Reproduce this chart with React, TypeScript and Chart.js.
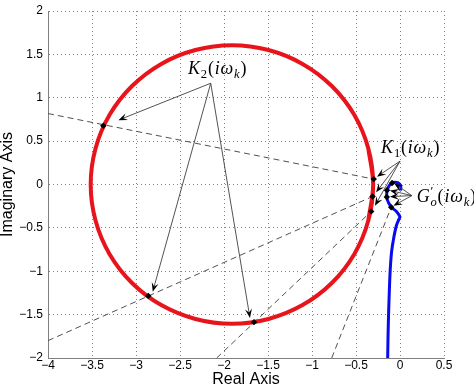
import React, { useEffect, useRef } from 'react';
import { Chart, registerables } from 'chart.js';

Chart.register(...registerables);

// Red circle (disk boundary)
const circleRe = [-0.360, -0.305, -0.360, -0.520, -0.775, -1.108, -1.495, -1.910, -2.325, -2.713, -3.045, -3.300, -3.460, -3.515, -3.460, -3.300, -3.045, -2.713, -2.325, -1.910, -1.495, -1.108, -0.775, -0.520, -0.360, -0.305, -0.360];
const circleIm = [-0.415, 0.000, 0.415, 0.803, 1.135, 1.390, 1.550, 1.605, 1.550, 1.390, 1.135, 0.803, 0.415, 0.000, -0.415, -0.803, -1.135, -1.390, -1.550, -1.605, -1.550, -1.390, -1.135, -0.803, -0.415, 0.000, 0.415];

// Blue Nyquist curve G'_o(iω)
const nyqRe = [-0.140, -0.136, -0.130, -0.122, -0.112, -0.096, -0.072, -0.040, -0.012, 0.000, -0.040, -0.090, -0.130, -0.150, -0.148, -0.130, -0.100, -0.065, -0.025, 0.000, 0.010, 0.005];
const nyqIm = [-2.000, -1.750, -1.500, -1.250, -1.000, -0.780, -0.620, -0.470, -0.400, -0.375, -0.310, -0.270, -0.210, -0.150, -0.080, -0.025, 0.010, 0.025, 0.020, 0.000, -0.035, -0.070];

// Marked points
const k2Re = [-3.371, -2.860, -1.659];
const k2Im = [0.678, -1.284, -1.587];
const k1Re = [-0.298, -0.312, -0.327];
const k1Im = [0.062, -0.138, -0.310];
const gRe = [-0.090, -0.148, -0.150, -0.100];
const gIm = [0.018, -0.067, -0.144, -0.262];

// Dashed rays (start at plot edge, end at marked point)
const rayFromRe = [-4.0, -4.0, -2.083, -0.776];
const rayFromIm = [0.818, -1.800, -2.000, -2.000];
const rayToRe = [-0.298, -0.312, -0.327, -0.100];
const rayToIm = [0.062, -0.138, -0.310, -0.262];

// Annotation arrows
const k2ArrowFrom = [-2.151, 1.167];
const k2TipRe = [-3.200, -2.810, -1.705];
const k2TipIm = [0.742, -1.235, -1.538];
const k1ArrowFrom = [0.0, 0.269];
const k1TipRe = [-0.262, -0.272, -0.285];
const k1TipIm = [0.090, -0.090, -0.245];
const gArrowFrom = [0.135, -0.128];
const gTipRe = [-0.065, -0.115, -0.115, -0.075];
const gTipIm = [0.012, -0.068, -0.140, -0.245];

// Ticks
const xTicks = [-4, -3.5, -3, -2.5, -2, -1.5, -1, -0.5, 0, 0.5];
const yTicks = [-2, -1.5, -1, -0.5, 0, 0.5, 1, 1.5, 2];

// Label anchors (data coords, baseline-left)
const k2LabelAt = [-2.409, 1.273];
const k1LabelAt = [-0.215, 0.364];
const gLabelAt = [0.190, -0.205];

const pts = (re: number[], im: number[]) => re.map((v, i) => ({ x: v, y: im[i] }));
const fmt = (v: number) => String(Math.round(v * 10) / 10).replace('-', '\u2212');

type Part = { t: string; it?: boolean; sub?: boolean; sup?: boolean; noAdv?: boolean };

const mathK = (n: string): Part[] => [
  { t: 'K', it: true }, { t: n, sub: true }, { t: '(' }, { t: 'i', it: true }, { t: 'ω', it: true }, { t: 'k', it: true, sub: true }, { t: ')' },
];
const mathG: Part[] = [
  { t: 'G', it: true }, { t: '′', sup: true, noAdv: true }, { t: 'o', it: true, sub: true }, { t: '(' }, { t: 'i', it: true }, { t: 'ω', it: true }, { t: 'k', it: true, sub: true }, { t: ')' },
];

const annotPlugin = {
  id: 'annot',
  afterDatasetsDraw(chart: any) {
    const { ctx, scales } = chart;
    const xs = scales.x, ys = scales.y;
    const px = (v: number) => xs.getPixelForValue(v);
    const py = (v: number) => ys.getPixelForValue(v);
    const arrow = (x0: number, y0: number, x1: number, y1: number) => {
      const X0 = px(x0), Y0 = py(y0), X1 = px(x1), Y1 = py(y1);
      const ang = Math.atan2(Y1 - Y0, X1 - X0);
      const L = 9, W = 3.5;
      ctx.save();
      ctx.strokeStyle = '#404040';
      ctx.lineWidth = 0.9;
      ctx.beginPath();
      ctx.moveTo(X0, Y0);
      ctx.lineTo(X1 - Math.cos(ang) * L * 0.6, Y1 - Math.sin(ang) * L * 0.6);
      ctx.stroke();
      ctx.translate(X1, Y1);
      ctx.rotate(ang);
      ctx.fillStyle = '#000';
      ctx.beginPath();
      ctx.moveTo(0, 0);
      ctx.lineTo(-L, -W);
      ctx.lineTo(-L * 0.6, 0);
      ctx.lineTo(-L, W);
      ctx.closePath();
      ctx.fill();
      ctx.restore();
    };
    k2TipRe.forEach((r, i) => arrow(k2ArrowFrom[0], k2ArrowFrom[1], r, k2TipIm[i]));
    k1TipRe.forEach((r, i) => arrow(k1ArrowFrom[0], k1ArrowFrom[1], r, k1TipIm[i]));
    gTipRe.forEach((r, i) => arrow(gArrowFrom[0], gArrowFrom[1], r, gTipIm[i]));

    const drawMath = (at: number[], parts: Part[], size: number) => {
      let cx = px(at[0]);
      const by = py(at[1]);
      ctx.save();
      ctx.fillStyle = '#000';
      ctx.textBaseline = 'alphabetic';
      ctx.textAlign = 'left';
      for (const p of parts) {
        const s = p.sub || p.sup ? size * 0.7 : size;
        ctx.font = `${p.it ? 'italic ' : ''}${s}px "Liberation Serif", "DejaVu Serif", serif`;
        const dy = p.sub ? size * 0.22 : p.sup ? -size * 0.42 : 0;
        ctx.fillText(p.t, cx, by + dy);
        if (!p.noAdv) cx += ctx.measureText(p.t).width + 0.8;
      }
      ctx.restore();
    };
    drawMath(k2LabelAt, mathK('2'), 18);
    drawMath(k1LabelAt, mathK('1'), 18);
    drawMath(gLabelAt, mathG, 18);
  },
};

export default function App() {
  const ref = useRef<HTMLCanvasElement | null>(null);
  useEffect(() => {
    if (!ref.current) return;
    const tickFont = { family: '"Liberation Sans", Arial, sans-serif', size: 12, lineHeight: 1 };
    const gridColor = 'rgba(90,90,90,0.75)';
    const rayStyle = { showLine: true, borderColor: '#505050', borderWidth: 1, borderDash: [6, 4], pointRadius: 0, order: 3 };
    const chart = new Chart(ref.current, {
      type: 'scatter',
      data: {
        datasets: [
          ...rayFromRe.map((r, i) => ({
            ...rayStyle,
            data: [{ x: r, y: rayFromIm[i] }, { x: rayToRe[i], y: rayToIm[i] }],
          })),
          { data: pts(circleRe, circleIm), showLine: true, borderColor: '#e8141b', borderWidth: 4, tension: 0.34, pointRadius: 0, order: 2 },
          { data: pts(nyqRe, nyqIm), showLine: true, borderColor: '#0a0aee', borderWidth: 3, tension: 0.25, pointRadius: 0, order: 1 },
          { data: pts(k2Re, k2Im), pointStyle: 'rectRot', pointRadius: 3.2, backgroundColor: '#000', borderColor: '#000', borderWidth: 0, order: 0 },
          { data: pts(k1Re, k1Im), pointStyle: 'rectRot', pointRadius: 3.2, backgroundColor: '#000', borderColor: '#000', borderWidth: 0, order: 0 },
          { data: pts(gRe, gIm), pointStyle: 'rectRot', pointRadius: 3.2, backgroundColor: '#000', borderColor: '#000', borderWidth: 0, order: 0 },
        ] as any,
      },
      options: {
        animation: false,
        responsive: false,
        devicePixelRatio: 1,
        layout: { padding: { left: 0, right: 30, top: 6, bottom: 0 } },
        plugins: { legend: { display: false }, tooltip: { enabled: false } },
        scales: {
          x: {
            type: 'linear',
            min: -4,
            max: 0.5,
            afterBuildTicks: (s: any) => { s.ticks = xTicks.map((v) => ({ value: v })); },
            afterFit: (s: any) => { s.height = 31; },
            ticks: { callback: (v: any) => fmt(Number(v)), color: '#000', font: tickFont, padding: 2, maxRotation: 0, autoSkip: false },
            grid: { color: gridColor, lineWidth: 1, drawTicks: false },
            border: { display: true, color: '#808080', width: 1, dash: [1, 3] },
            title: { display: true, text: 'Real Axis', color: '#000', font: { family: '"Liberation Sans", Arial, sans-serif', size: 16 }, padding: 0 },
          },
          y: {
            type: 'linear',
            min: -2,
            max: 2,
            afterBuildTicks: (s: any) => { s.ticks = yTicks.map((v) => ({ value: v })); },
            afterFit: (s: any) => { s.width = 48; },
            ticks: { callback: (v: any) => fmt(Number(v)), color: '#000', font: tickFont, padding: 5, autoSkip: false },
            grid: { color: gridColor, lineWidth: 1, drawTicks: false },
            border: { display: true, color: '#808080', width: 1, dash: [1, 3] },
            title: { display: true, text: 'Imaginary Axis', color: '#000', font: { family: '"Liberation Sans", Arial, sans-serif', size: 16, lineHeight: 0.9 }, padding: 0 },
          },
        },
      } as any,
      plugins: [annotPlugin],
    });
    return () => chart.destroy();
  }, []);
  return (
    <div style={{ position: 'absolute', left: 0, top: 0, width: 474, height: 389, background: '#fff' }}>
      <canvas ref={ref} width={474} height={389} style={{ display: 'block' }} />
    </div>
  );
}
